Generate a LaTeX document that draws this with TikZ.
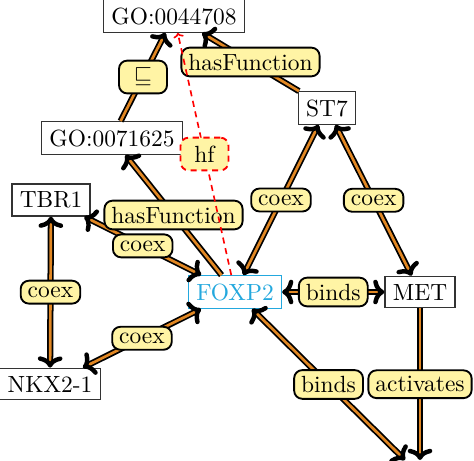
\documentclass[tikz,border=0pt]{standalone}
\usetikzlibrary{arrows.meta}
\definecolor{edgeorange}{RGB}{225,135,35}
\definecolor{labelyellow}{RGB}{255,244,165}
\definecolor{foxcyan}{RGB}{35,168,222}
\begin{document}
\begin{tikzpicture}[x=0.427pt,y=-0.427pt,
  ent/.style={draw=black!80, line width=0.5pt, fill=white},
  rel/.style={draw=black, double=edgeorange, line width=0.75pt, double distance=1.15pt,
    >={To[length=4.8pt,width=10.5pt,line width=1.9pt]}},
  lbl/.style={fill=labelyellow, draw=black, line width=0.8pt, rounded corners=3.5pt,
    inner xsep=3pt, inner ysep=2.6pt},
  biglbl/.style={lbl, minimum width=20.5pt, minimum height=14pt},
  hfedge/.style={draw=red, line width=0.7pt, dash pattern=on 2.6pt off 2pt,
    -{To[length=2pt,width=4.5pt]}},
]
\useasboundingbox (0,0) rectangle (474,460);
\node[ent] (go1) at (174,16) {GO:0044708};
\node[ent] (go2) at (112,138) {GO:0071625};
\node[ent] (st7) at (327,108) {ST7};
\node[ent] (tbr) at (51,200) {TBR1};
\node[ent, draw=foxcyan, text=foxcyan] (fox) at (235,292) {FOXP2};
\node[ent] (met) at (420,292) {MET};
\node[ent] (nkx) at (50,384) {NKX2-1};
\coordinate (b1) at (405,460);
\coordinate (b2) at (420,460);

\draw[rel,->] (go2) -- node[biglbl] (l1) {$\sqsubseteq$} (go1);
\draw[rel,->] (st7) -- node[lbl] (l2) {hasFunction} (go1);
\draw[rel,<->] (tbr) -- node[lbl] (l4) {coex} (fox);
\draw[rel,->] (fox) -- node[lbl] (l3) {hasFunction} (go2);
\draw[rel,<->] (tbr) -- node[lbl] (l5) {coex} (nkx);
\draw[rel,<->] (nkx) -- node[lbl] (l6) {coex} (fox);
\draw[rel,<->] (st7) -- node[lbl] (l7) {coex} (fox);
\draw[rel,<->] (st7) -- node[lbl] (l8) {coex} (met);
\draw[rel,<->] (fox) -- node[lbl] (l9) {binds} (met);
\draw[rel,<->] (fox) -- node[lbl] (l10) {binds} (b1);
\draw[rel,->] (met) -- node[lbl] (l11) {activates} (b2);
\draw[hfedge] (fox) -- node[biglbl, draw=red, dash pattern=on 2.6pt off 2pt] (l12) {hf} (go1);
\end{tikzpicture}
\end{document}
